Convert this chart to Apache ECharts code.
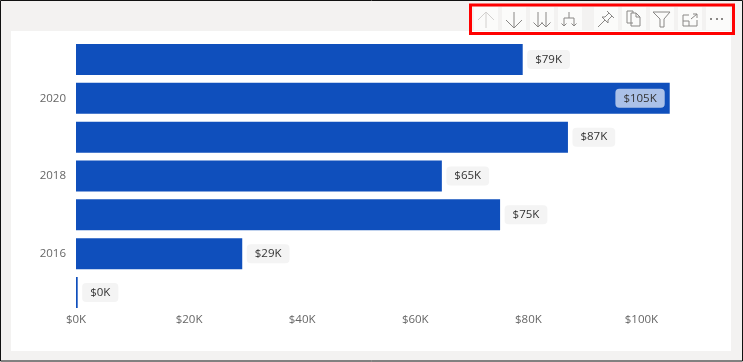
<!DOCTYPE html>
<html>
<head>
<meta charset="utf-8">
<style>
  html, body { margin: 0; padding: 0; background: #f3f2f1; }
  #chart { width: 743px; height: 362px; }
</style>
</head>
<body>
<div id="chart"></div>
<script src="https://cdn.jsdelivr.net/npm/echarts@6/dist/echarts.min.js"></script>
<script>
const years = ['2021', '2020', '2019', '2018', '2017', '2016', '2015']
const sales = [79, 105, 87, 64.7, 75, 29.4, 0.3]
const salesLabels = ['$79K', '$105K', '$87K', '$65K', '$75K', '$29K', '$0K']
const highlighted = '2020'

const font = '"Open Sans", sans-serif'
const chart = echarts.init(document.getElementById('chart'))

// toolbar icons, a list of polylines per button
const buttons = [
  { x: 474, stroke: '#d2d0ce', lines: [[[12, 5], [12, 21]], [[4, 13], [12, 5], [20, 13]]] },
  { x: 502, lines: [[[12, 5], [12, 21]], [[4, 13], [12, 21], [20, 13]]] },
  { x: 530, lines: [[[8, 5], [8, 20]], [[3.5, 15.5], [8, 20], [12.5, 15.5]], [[16, 5], [16, 20]], [[11.5, 15.5], [16, 20], [20.5, 15.5]]] },
  { x: 558, lines: [[[11, 5], [11, 11]], [[6, 19], [6, 11], [16, 11], [16, 19]], [[3.5, 16.5], [6, 19], [8.5, 16.5]], [[13.5, 16.5], [16, 19], [18.5, 16.5]]] },
  { x: 594, lines: [[[13, 4], [20, 11]], [[15, 6], [11, 10], [8, 10], [14, 16], [14, 13], [18, 9]], [[11, 13], [4, 20]]] },
  { x: 622, lines: [[[11, 16], [5, 16], [5, 4], [11, 4], [11, 6]], [[9, 16], [9, 19], [18, 19], [18, 10], [14, 6], [9, 6], [9, 16]], [[14, 6], [14, 10], [18, 10]]] },
  { x: 650, lines: [[[3, 5], [20, 5], [14, 12], [14, 20], [10, 20], [10, 12], [3, 5]]] },
  { x: 678, lines: [[[11, 8], [5, 8], [5, 19], [19, 19], [19, 13]], [[5, 14], [11, 14], [11, 19]], [[15, 7], [19, 7], [19, 11]], [[19, 7], [13, 12]]] },
  { x: 706, width: 2, lines: [[[4, 12], [6, 12]], [[10, 12], [12, 12]], [[15, 12], [17, 12]]] }
]

const graphics = [
  { type: 'rect', z: 0, shape: { x: 11, y: 31, width: 720, height: 320 }, style: { fill: '#ffffff' } }
]
buttons.forEach(b => {
  graphics.push({ type: 'rect', z: 1, shape: { x: b.x, y: 7, width: 24, height: 23 }, style: { fill: '#fbfbfa' } })
  b.lines.forEach(points => {
    graphics.push({
      type: 'polyline', z: 2, x: b.x, y: 7,
      shape: { points: points },
      style: { fill: null, stroke: b.stroke || '#8a8886', lineWidth: b.width || 1 }
    })
  })
})
graphics.push({ type: 'rect', z: 3, shape: { x: 470.5, y: 5, width: 263, height: 28.5 }, style: { fill: null, stroke: '#ff0000', lineWidth: 3 } })
graphics.push({ type: 'rect', z: 3, shape: { x: 0.5, y: 0.5, width: 742, height: 360.5 }, style: { fill: null, stroke: '#111111', lineWidth: 1 } })

const option = {
  backgroundColor: '#f3f2f1',
  animation: false,
  graphic: graphics,
  grid: { left: 76, top: 40, width: 622, height: 272 },
  xAxis: {
    type: 'value',
    min: 0,
    max: 110,
    interval: 20,
    axisLine: { show: false },
    axisTick: { show: false },
    splitLine: { show: false },
    axisLabel: {
      showMaxLabel: false,
      margin: 2,
      fontFamily: font,
      fontSize: 11.5,
      color: '#666666',
      formatter: v => '$' + v + 'K'
    }
  },
  yAxis: {
    type: 'category',
    inverse: true,
    data: years,
    axisLine: { show: false },
    axisTick: { show: false },
    axisLabel: {
      interval: (i) => i % 2 === 1,
      margin: 10,
      padding: [2, 0, 0, 0],
      fontFamily: font,
      fontSize: 11.5,
      color: '#666666'
    }
  },
  series: [{
    type: 'bar',
    barWidth: 31,
    silent: true,
    itemStyle: { color: '#0f4fbc' },
    data: sales.map((v, i) => {
      const inside = years[i] === highlighted
      return {
        value: v,
        label: {
          show: true,
          position: inside ? 'insideRight' : 'right',
          distance: inside ? 5 : 4.5,
          formatter: salesLabels[i],
          fontFamily: font,
          fontSize: 11.5,
          lineHeight: 13,
          color: '#333333',
          padding: [4, 8, 2, 8],
          borderRadius: 4,
          backgroundColor: inside ? 'rgba(255,255,255,0.65)' : '#f4f4f4'
        }
      }
    })
  }]
}

chart.setOption(option)
</script>
</body>
</html>
